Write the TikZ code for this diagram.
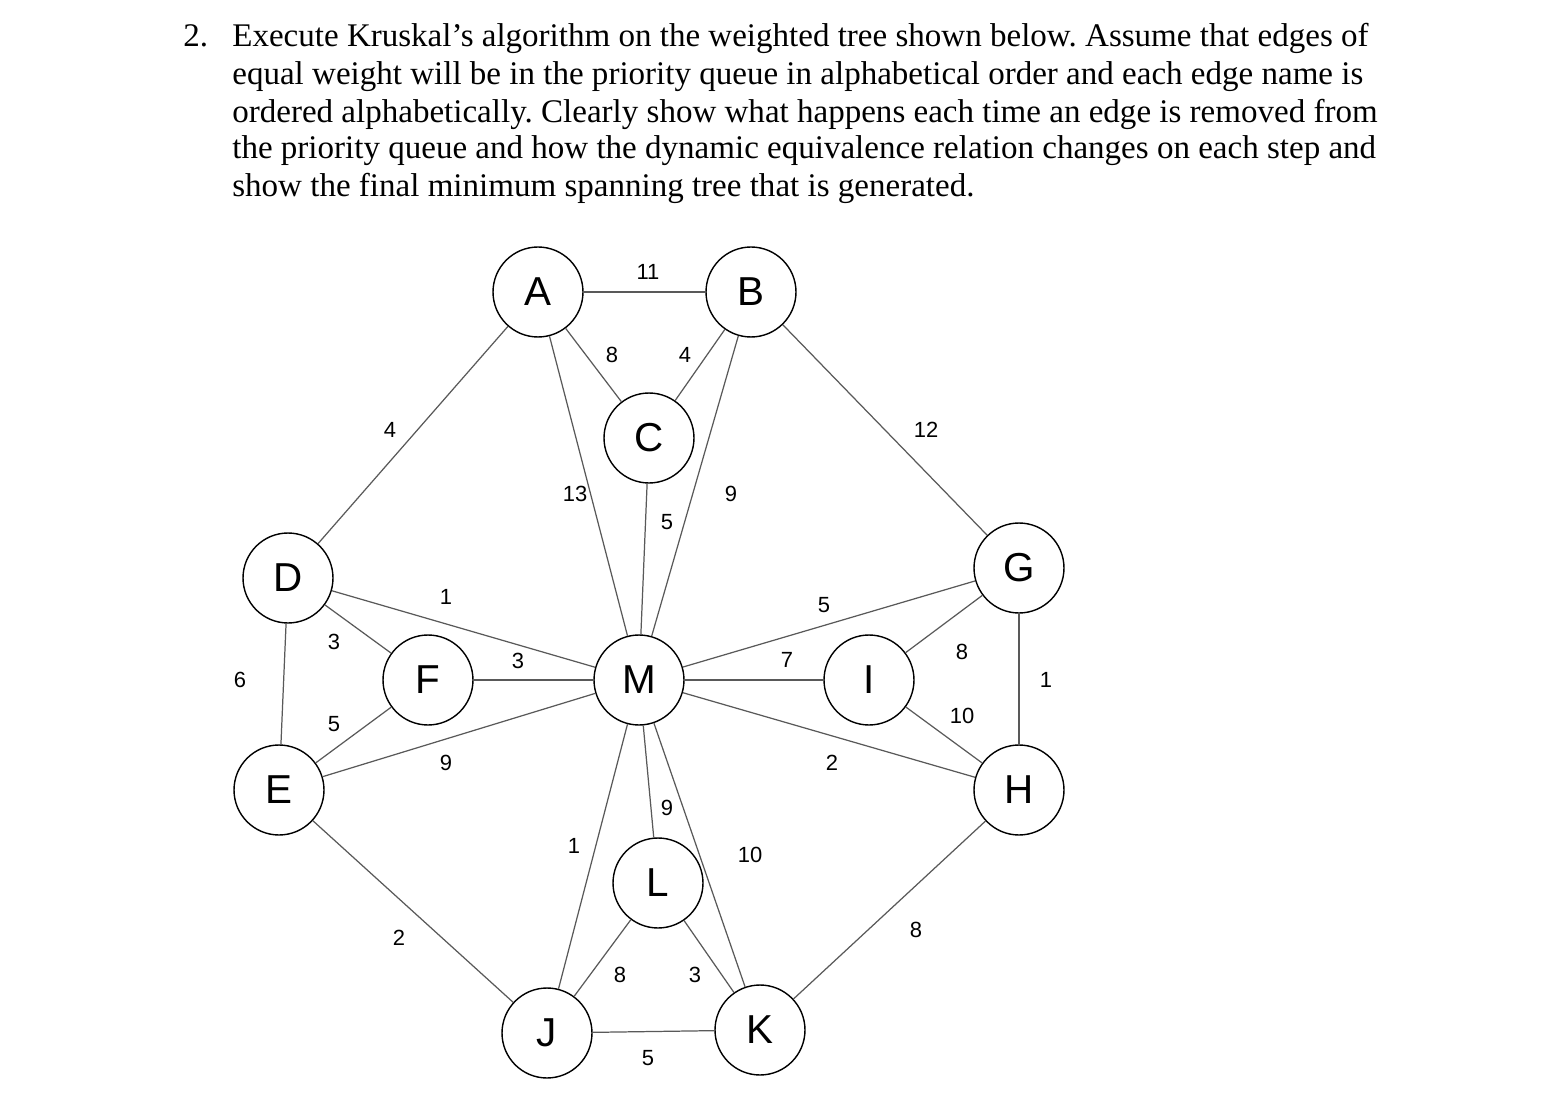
\documentclass[tikz,border=0pt]{standalone}
\usepackage{fontspec}
\setmainfont{Liberation Serif}
\newfontfamily\arialf{Liberation Sans}
\frenchspacing
\begin{document}
\begin{tikzpicture}[x=0.02cm,y=-0.02cm,
  vtx/.style={circle,draw,line width=0.8pt,minimum size=1.8cm,inner sep=0pt,font=\arialf\fontsize{23}{25}\selectfont},
  wt/.style={font=\arialf\fontsize{12.5}{14}\selectfont,inner sep=1pt},
  ed/.style={draw,gray!70!black,line width=0.7pt},
  para/.style={anchor=base west,inner sep=0pt,font=\fontsize{18.8}{20}\selectfont}]
\useasboundingbox (0,0) rectangle (1556,1108);
\node[para] (n2) at (183,47) {2.};
\node[para] (l1) at (232,47) {Execute Kruskal’s algorithm on the weighted tree shown below. Assume that edges of};
\node[para] (l2) at (232,85) {equal weight will be in the priority queue in alphabetical order and each edge name is};
\node[para] (l3) at (232,123) {ordered alphabetically. Clearly show what happens each time an edge is removed from};
\node[para] (l4) at (232,159) {the priority queue and how the dynamic equivalence relation changes on each step and};
\node[para] (l5) at (232,197) {show the final minimum spanning tree that is generated.};
\node[vtx] (A) at (538,292) {A};
\node[vtx] (B) at (751,292) {B};
\node[vtx] (C) at (649,438) {C};
\node[vtx] (D) at (288,578) {D};
\node[vtx] (G) at (1019,568) {G};
\node[vtx] (F) at (428,680) {F};
\node[vtx] (M) at (639,680) {M};
\node[vtx] (I) at (869,680) {I};
\node[vtx] (E) at (279,790) {E};
\node[vtx] (H) at (1019,790) {H};
\node[vtx] (L) at (658,883) {L};
\node[vtx] (J) at (547,1033) {J};
\node[vtx] (K) at (760,1030) {K};
\foreach \a/\b in {A/B,A/C,B/C,A/D,A/M,B/M,C/M,B/G,D/M,D/F,D/E,F/M,E/F,E/M,M/G,M/I,M/H,I/G,I/H,G/H,M/L,M/J,M/K,E/J,H/K,L/J,L/K,J/K}
  \path[ed] (\a) -- (\b);
\foreach \t/\x/\y [count=\i] in {11/648/272,8/612/355,4/685/355,4/390/430,13/575/494,9/731/494,5/667/522,12/926/430,1/446/597,3/334/642,6/240/680,3/518/661,5/334/724,9/446/763,5/824/605,7/787/660,2/832/763,8/962/652,10/962/716,1/1046/680,9/667/808,1/574/846,10/750/855,2/399/938,8/916/930,8/620/975,3/695/975,5/648/1058}
  \node[wt] (w\i) at (\x,\y) {\t};
\end{tikzpicture}
\end{document}
